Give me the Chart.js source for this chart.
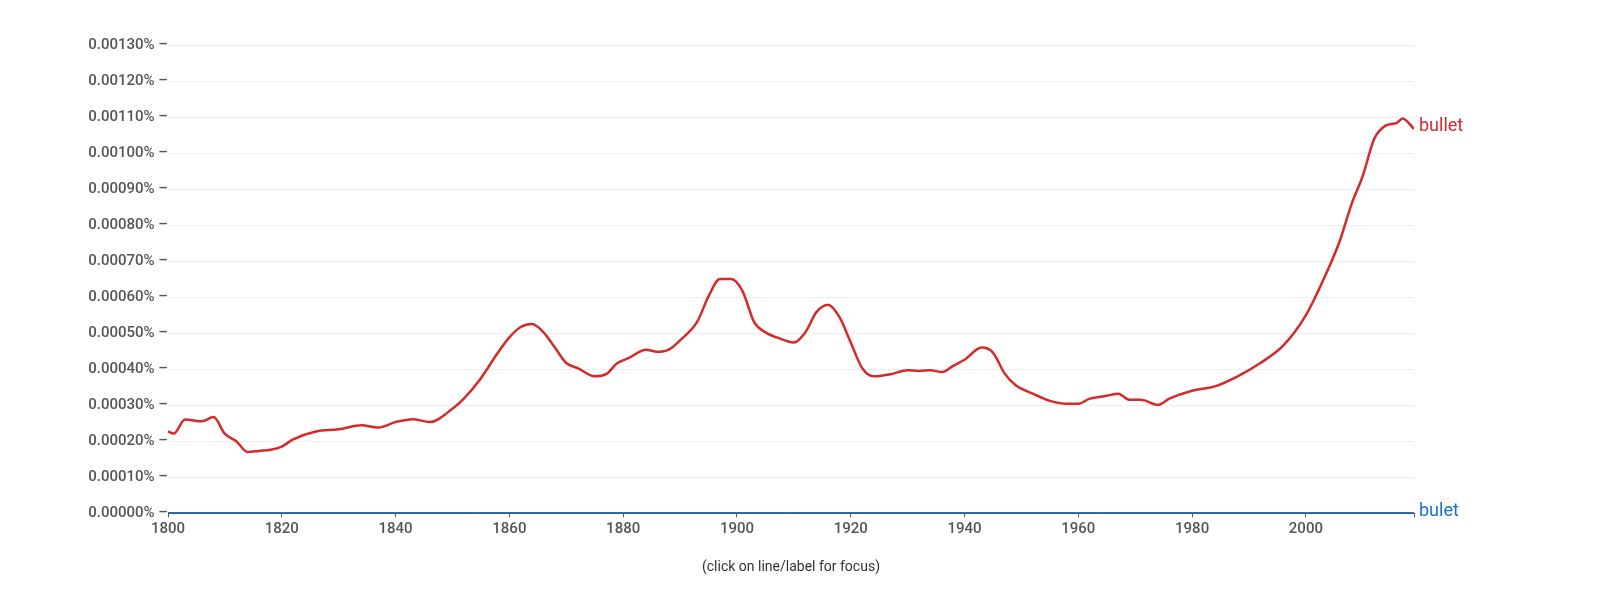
<!DOCTYPE html>
<html><head><meta charset="utf-8">
<script src="https://cdn.jsdelivr.net/npm/chart.js@4"></script>
<style>html,body{margin:0;padding:0;background:#fff}#w{width:1600px;height:614px}</style>
</head><body><div id="w"><canvas id="c"></canvas></div>
<script>
const years = [1800,1801,1803,1806,1808,1810,1812,1814,1816,1818,1820,1822,1826,1830,1834,1837,1840,1843,1846,1850,1852,1855,1858,1860,1862,1864,1866,1868,1870,1872,1875,1877,1879,1881,1884,1886,1888,1890,1893,1895,1897,1899,1901,1903,1905,1907,1910,1912,1914,1916,1918,1920,1922,1924,1927,1930,1932,1934,1936,1938,1940,1943,1945,1947,1949,1952,1955,1958,1960,1962,1965,1967,1969,1971,1974,1976,1980,1984,1988,1992,1996,2000,2004,2006,2008,2010,2012,2014,2016,2017,2019];
const bullet = [2.27,2.21,2.6,2.55,2.67,2.2,2.0,1.7,1.73,1.76,1.85,2.05,2.27,2.33,2.44,2.38,2.53,2.61,2.53,2.9,3.18,3.75,4.46,4.88,5.17,5.25,5.02,4.6,4.17,4.03,3.8,3.86,4.17,4.31,4.54,4.48,4.54,4.8,5.31,6.02,6.5,6.5,6.16,5.31,5.02,4.88,4.74,5.02,5.59,5.79,5.45,4.74,4.03,3.8,3.86,3.97,3.95,3.97,3.92,4.09,4.26,4.6,4.46,3.89,3.55,3.32,3.12,3.04,3.04,3.18,3.26,3.32,3.15,3.15,3.01,3.18,3.4,3.52,3.8,4.17,4.65,5.5,6.81,7.58,8.57,9.37,10.39,10.76,10.84,10.96,10.67].map(v=>v*0.0001);
const buletYears = [1800,2019];
const bulet = [0,0];
const names = ['bullet','bulet'];
const colors = ['#d62a2a','#1a6fd1'];

const endLabels = {
  id:'endLabels',
  afterDatasetsDraw(chart){
    const ctx=chart.ctx;
    chart.data.datasets.forEach((ds,i)=>{
      const meta=chart.getDatasetMeta(i);
      const p=meta.data[meta.data.length-1];
      ctx.save();
      ctx.font='18px Roboto';ctx.fillStyle=ds.borderColor;
      ctx.textBaseline='middle';ctx.fillText(ds.label,p.x+5,p.y-2);
      ctx.restore();
    });
  }
};
new Chart(document.getElementById('c'),{
  type:'line',
  data:{datasets:[
    {label:names[0],data:years.map((y,i)=>({x:y,y:bullet[i]})),borderColor:colors[0],borderWidth:2.5,pointRadius:0,tension:0.4,cubicInterpolationMode:'monotone'},
    {label:names[1],data:buletYears.map((y,i)=>({x:y,y:bulet[i]})),borderColor:colors[1],borderWidth:2.5,pointRadius:0}
  ]},
  options:{
    responsive:true,maintainAspectRatio:false,animation:false,
    layout:{padding:{top:45,right:186,bottom:34,left:0}},
    plugins:{legend:{display:false},tooltip:{enabled:false}},
    scales:{
      x:{type:'linear',min:1800,max:2019,
        ticks:{stepSize:20,autoSkip:false,color:'#555',font:{family:'Roboto',size:15,weight:'500'},callback:v=>v%20===0?v:''},
        grid:{drawOnChartArea:false,tickLength:4,color:'#555'},
        border:{color:'#555',width:1},
        title:{display:true,text:'(click on line/label for focus)',color:'#333',font:{family:'Roboto',size:14},padding:{top:18}}
      },
      y:{min:0,max:0.0013,
        afterFit(s){s.width=168;},
        ticks:{stepSize:0.0001,color:'#555',padding:0,font:{family:'Roboto',size:15,weight:'500'},callback:v=>v.toFixed(5)+'% –'},
        grid:{color:'#eeeeee',drawTicks:false},
        border:{display:false}
      }
    }
  },
  plugins:[endLabels]
});
</script></body></html>
